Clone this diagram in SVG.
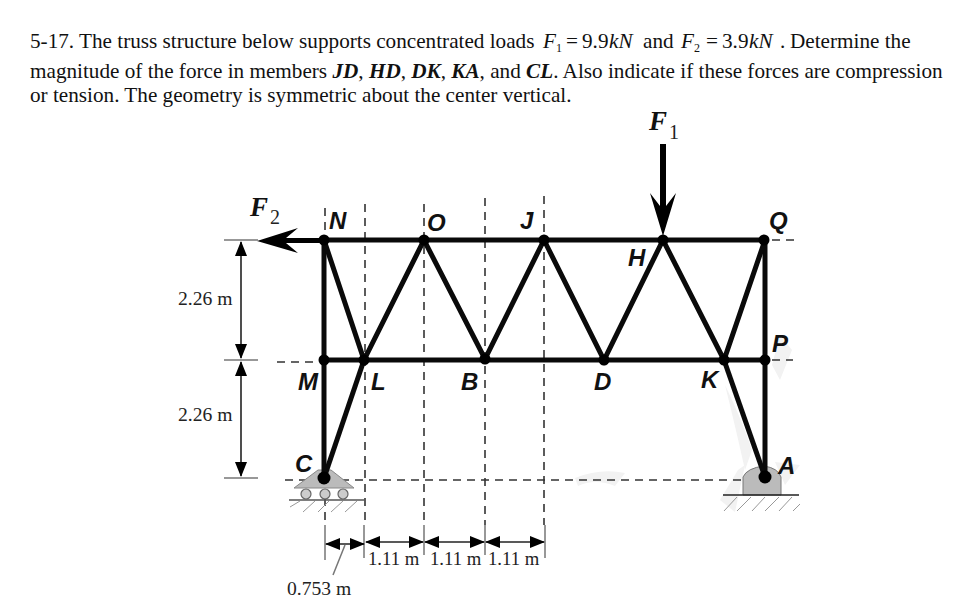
<svg xmlns="http://www.w3.org/2000/svg" width="975" height="607" viewBox="0 0 975 607">
<style>
.t{font-family:"Liberation Serif",serif;font-size:21.2px;fill:#111}
.b{font-weight:bold;font-style:italic}
.i{font-style:italic}
.u{font-size:12px}
.d{font-family:"Liberation Serif",serif;font-size:19.6px;fill:#222}
.y{font-family:"Liberation Serif",serif;font-size:18.7px;fill:#222}
.f{font-family:"Liberation Serif",serif;font-size:27px;font-weight:bold;font-style:italic;fill:#111}
.s{font-family:"Liberation Serif",serif;font-size:20px;fill:#222}
.n{font-family:"Liberation Sans",sans-serif;font-size:24px;font-weight:bold;font-style:italic;fill:#111}
.m{stroke:#0a0a0a;stroke-width:5;fill:none}
.h{stroke:#333;stroke-width:1.6;stroke-dasharray:8 6;fill:none}
.e{stroke:#777;stroke-width:1.5;fill:none}
.l{stroke:#222;stroke-width:1.6;fill:none}
.g{stroke:#999;stroke-width:1;fill:none}
</style>
<defs>
<marker id="dim" markerWidth="15" markerHeight="12" refX="14" refY="6" orient="auto-start-reverse" markerUnits="userSpaceOnUse"><path d="M0 0L15 6L0 12Z" fill="#000"/></marker>
</defs>
<rect width="975" height="607" fill="#fff"/>
<g id="smudges" fill="#f2f2f2">
<path d="M575 478Q600 468 625 473L615 486Q595 478 578 486Z"/>
<path d="M725 385Q742 420 752 450L745 470Q735 425 725 385Z"/>
<path d="M780 335L792 350L780 380L772 365Z"/>
<path d="M775 462L800 465L785 485Z"/>
<path d="M735 512L745 465L738 470L720 500Z"/>
</g>
<g id="statement">
<text class="t" y="48"><tspan x="30">5-17. The truss structure below supports concentrated loads</tspan><tspan class="i" x="543">F</tspan><tspan class="u" x="556" dy="4">1</tspan><tspan x="566" dy="-4">=</tspan><tspan x="582">9.9</tspan><tspan class="i" x="609">kN</tspan><tspan x="643">and</tspan><tspan class="i" x="681">F</tspan><tspan class="u" x="694" dy="4">2</tspan><tspan x="706" dy="-4">=</tspan><tspan x="722">3.9</tspan><tspan class="i" x="749">kN</tspan><tspan x="780">.</tspan><tspan x="790">Determine the</tspan></text>
<text class="t" x="30" y="78">magnitude of the force in members <tspan class="b">JD</tspan>, <tspan class="b">HD</tspan>, <tspan class="b">DK</tspan>, <tspan class="b">KA</tspan>, and <tspan class="b">CL</tspan>. Also indicate if these forces are compression</text>
<text class="t" x="30" y="102">or tension. The geometry is symmetric about the center vertical.</text>
</g>
<g id="guides">
<path class="h" d="M325 208V232"/>
<path class="h" d="M365 204V525"/>
<path class="h" d="M424 204V525"/>
<path class="h" d="M485 198V525"/>
<path class="h" d="M544 196V525"/>
<path class="h" d="M277 362H318"/>
<path class="h" d="M772 360H793"/>
<path class="h" d="M772 240H796"/>
<path class="h" d="M285 480H745"/>
<path class="h" d="M325 498V525"/>
</g>
<g id="support-C">
<path d="M294 488L318 470H331L354 488Z" fill="#bbb" stroke="#888"/>
<circle cx="306" cy="494" r="5" fill="#ccc" stroke="#666" stroke-width="1.2"/>
<circle cx="325" cy="494" r="5" fill="#ccc" stroke="#666" stroke-width="1.2"/>
<circle cx="343" cy="494" r="5" fill="#ccc" stroke="#666" stroke-width="1.2"/>
<path d="M289 500H365" stroke="#555" stroke-width="1.5"/>
<path class="g" d="M290 507L300 501M303 512L315 501M318 512L329 501M331 512L343 501M345 512L357 501"/>
</g>
<g id="support-A">
<path d="M743 495V477Q747 468 764 466Q778 468 781 477V495Z" fill="#bbb" stroke="#777"/>
<path d="M723 495H799" stroke="#222" stroke-width="1.5"/>
<path class="g" d="M724 511L737 497M737 511L751 497M752 511L765 497M765 511L779 497M779 511L792 497M793 511L800 504"/>
</g>
<g id="connectors">
<path class="m" d="M324 240H765"/>
<path class="m" d="M324 360H765"/>
<path class="m" d="M324 240V478"/>
<path class="m" d="M765 240V477"/>
<path class="m" d="M324 240L364 360L424 240L485 359L544 240L604 360L663 240L724 360L765 240"/>
<path class="m" d="M364 360L324 478"/>
<path class="m" d="M724 360L765 477"/>
</g>
<g id="loads">
<path d="M257 241L298 228L286 238H324V243H286L298 253Z" fill="#000"/>
<path d="M660 144H666V206L676 193L663 236L650 193L660 206Z" fill="#000"/>
</g>
<g id="dimensions">
<path class="e" d="M224 240H258M224 360H258M224 478H258"/>
<path class="l" d="M241 242V358" marker-start="url(#dim)" marker-end="url(#dim)"/>
<path class="l" d="M241 362V476" marker-start="url(#dim)" marker-end="url(#dim)"/>
<path class="e" d="M325 525V560M364 525V558M424 525V555M485 525V555M545 525V558"/>
<path class="l" d="M326 544H364" marker-start="url(#dim)" marker-end="url(#dim)"/>
<path class="l" d="M366 542H423" marker-start="url(#dim)" marker-end="url(#dim)"/>
<path class="l" d="M425 542H484" marker-start="url(#dim)" marker-end="url(#dim)"/>
<path class="l" d="M486 542H544" marker-start="url(#dim)" marker-end="url(#dim)"/>
<path class="e" d="M345 545L333 575"/>
<text class="d" x="178" y="305">2.26 m</text>
<text class="d" x="178" y="421">2.26 m</text>
<text class="y" x="368" y="565">1.11 m</text>
<text class="y" x="430" y="565">1.11 m</text>
<text class="y" x="488" y="565">1.11 m</text>
<text class="d" x="287" y="595">0.753 m</text>
<text class="f" x="250" y="216">F</text><text class="s" x="270" y="224">2</text>
<text class="f" x="649" y="130">F</text><text class="s" x="669" y="139">1</text>
</g>
<g id="node-N"><circle cx="324" cy="240" r="5.5"/><text class="n" x="329" y="229">N</text></g>
<g id="node-O"><circle cx="424" cy="240" r="5.5"/><text class="n" x="427" y="231">O</text></g>
<g id="node-J"><circle cx="544" cy="240" r="5.5"/><text class="n" x="520" y="229">J</text></g>
<g id="node-H"><circle cx="663" cy="240" r="5.5"/><text class="n" x="628" y="266">H</text></g>
<g id="node-Q"><circle cx="764" cy="240" r="5.5"/><text class="n" x="769" y="229">Q</text></g>
<g id="node-M"><circle cx="324" cy="360" r="5.5"/><text class="n" x="298" y="390">M</text></g>
<g id="node-L"><circle cx="364" cy="360" r="5.5"/><text class="n" x="371" y="390">L</text></g>
<g id="node-B"><circle cx="485" cy="359" r="5.5"/><text class="n" x="461" y="390">B</text></g>
<g id="node-D"><circle cx="604" cy="360" r="5.5"/><text class="n" x="594" y="390">D</text></g>
<g id="node-K"><circle cx="724" cy="360" r="5.5"/><text class="n" x="701" y="388">K</text></g>
<g id="node-P"><circle cx="765" cy="360" r="5.5"/><text class="n" x="772" y="352">P</text></g>
<g id="node-C"><circle cx="324" cy="478" r="6.5"/><text class="n" x="295" y="472">C</text></g>
<g id="node-A"><circle cx="765" cy="477" r="6.5"/><text class="n" x="778" y="474">A</text></g>
</svg>
